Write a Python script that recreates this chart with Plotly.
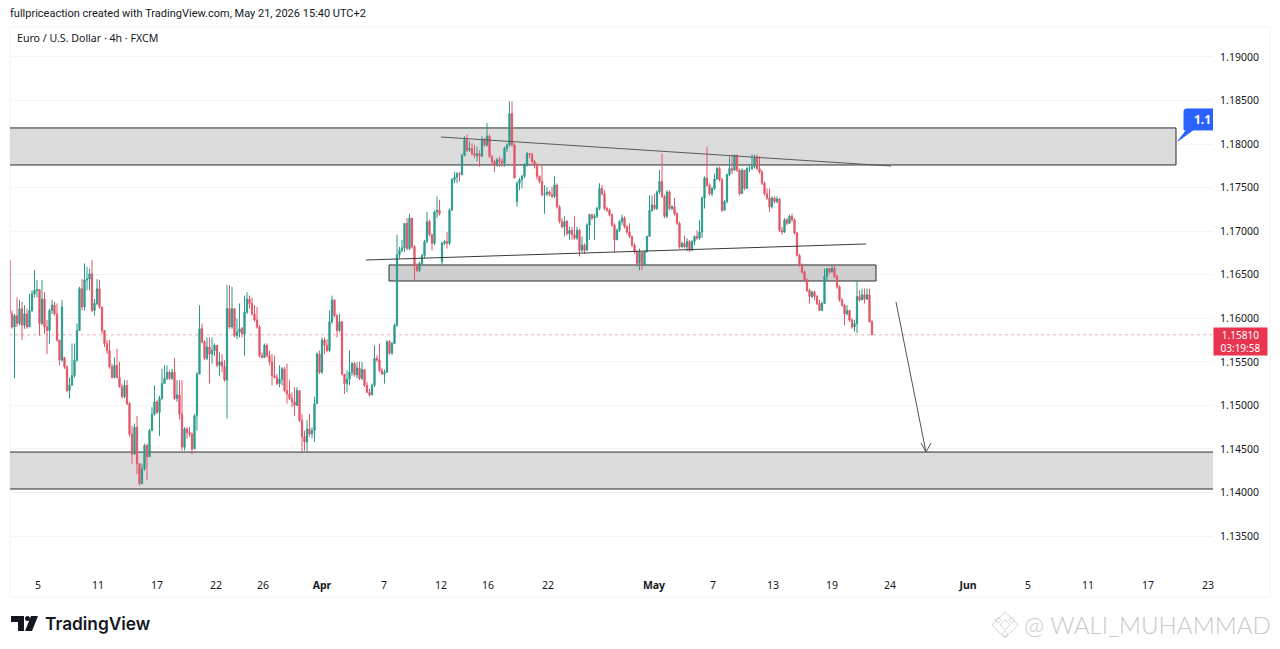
import plotly.graph_objects as go

# EUR/USD 4h candles
first_open = 1.1667
open_gaps = {22: 1.1555, 173: 1.1665, 203: 1.1734}

closes = [
    1.1605, 1.1590, 1.1603, 1.1594, 1.1611, 1.1592, 1.1605, 1.1590, 1.1609, 1.1628,
    1.1632, 1.1633, 1.1594, 1.1622, 1.1590, 1.1586, 1.1609, 1.1615, 1.1605, 1.1575,
    1.1552, 1.1613, 1.1544, 1.1517, 1.1523, 1.1534, 1.1552, 1.1586, 1.1634, 1.1613,
    1.1644, 1.1645, 1.1651, 1.1609, 1.1617, 1.1634, 1.1613, 1.1586, 1.1571, 1.1563,
    1.1544, 1.1532, 1.1546, 1.1532, 1.1521, 1.1510, 1.1523, 1.1502, 1.1467, 1.1444,
    1.1475, 1.1433, 1.1410, 1.1427, 1.1454, 1.1441, 1.1471, 1.1490, 1.1504, 1.1492,
    1.1508, 1.1525, 1.1531, 1.1538, 1.1531, 1.1538, 1.1508, 1.1512, 1.1490, 1.1452, 1.1473, 1.1469,
    1.1467, 1.1450, 1.1488, 1.1536, 1.1588, 1.1573, 1.1554, 1.1567, 1.1559, 1.1563,
    1.1569, 1.1546, 1.1550, 1.1545, 1.1529, 1.1611, 1.1590, 1.1611, 1.1580, 1.1584,
    1.1588, 1.1582, 1.1607, 1.1622, 1.1617, 1.1605, 1.1598, 1.1590, 1.1557, 1.1555,
    1.1569, 1.1557, 1.1550, 1.1534, 1.1532, 1.1525, 1.1530, 1.1542, 1.1517, 1.1513,
    1.1508, 1.1504, 1.1500, 1.1517, 1.1483, 1.1464, 1.1458, 1.1473, 1.1467, 1.1471,
    1.1502, 1.1559, 1.1538, 1.1575, 1.1569, 1.1563, 1.1596, 1.1621, 1.1603, 1.1586,
    1.1596, 1.1536, 1.1525, 1.1530, 1.1538, 1.1548, 1.1535, 1.1543, 1.1531, 1.1541,
    1.1523, 1.1515, 1.1512, 1.1523, 1.1554, 1.1552, 1.1540, 1.1536, 1.1538, 1.1573,
    1.1560, 1.1571, 1.1592, 1.1673, 1.1678, 1.1681, 1.1709, 1.1680, 1.1715, 1.1682,
    1.1661, 1.1655, 1.1663, 1.1672, 1.1688, 1.1711, 1.1696, 1.1686, 1.1722,
    1.1724, 1.1720, 1.1686, 1.1688, 1.1686, 1.1724, 1.1759, 1.1762, 1.1766, 1.1765,
    1.1787, 1.1805, 1.1793, 1.1795, 1.1789, 1.1787, 1.1789, 1.1786, 1.1805, 1.1799,
    1.1809, 1.1786, 1.1780, 1.1776, 1.1782, 1.1780, 1.1778, 1.1795, 1.1799, 1.1835,
    1.1799, 1.1761, 1.1755, 1.1759, 1.1763, 1.1776, 1.1789, 1.1788, 1.1780, 1.1776,
    1.1763, 1.1757, 1.1742, 1.1743, 1.1745, 1.1742, 1.1740, 1.1753, 1.1728, 1.1711, 1.1705,
    1.1711, 1.1697, 1.1701, 1.1696, 1.1692, 1.1701, 1.1678, 1.1684, 1.1678, 1.1707, 1.1719,
    1.1715, 1.1717, 1.1726, 1.1749, 1.1743, 1.1726, 1.1724, 1.1719, 1.1707, 1.1690,
    1.1701, 1.1711, 1.1715, 1.1705, 1.1699, 1.1694, 1.1684, 1.1676, 1.1663, 1.1676,
    1.1661, 1.1676, 1.1694, 1.1724, 1.1730, 1.1726, 1.1745, 1.1757, 1.1740, 1.1717,
    1.1745, 1.1726, 1.1728, 1.1720, 1.1709, 1.1682, 1.1686, 1.1682, 1.1688, 1.1678,
    1.1688, 1.1694, 1.1692, 1.1699, 1.1738, 1.1761, 1.1753, 1.1743, 1.1749,
    1.1760, 1.1772, 1.1759, 1.1724, 1.1734, 1.1765, 1.1772, 1.1770,
    1.1787, 1.1770, 1.1743, 1.1770, 1.1749, 1.1772, 1.1772, 1.1774, 1.1784, 1.1772,
    1.1768, 1.1755, 1.1743, 1.1738, 1.1728, 1.1738, 1.1734, 1.1737, 1.1701, 1.1699,
    1.1713, 1.1709, 1.1717, 1.1713, 1.1698, 1.1672, 1.1661, 1.1653, 1.1644, 1.1632,
    1.1625, 1.1630, 1.1625, 1.1617, 1.1609, 1.1617, 1.1648, 1.1657, 1.1653, 1.1657,
    1.1648, 1.1636, 1.1621, 1.1615, 1.1605, 1.1609, 1.1598, 1.1590, 1.1594, 1.1625,
    1.1621, 1.1627, 1.1622, 1.1627, 1.1596, 1.1581,
]
highs = [
    1.1697, 1.1609, 1.1605, 1.1624, 1.1621, 1.1619, 1.1615, 1.1611, 1.1628, 1.1632,
    1.1655, 1.1644, 1.1630, 1.1644, 1.1630, 1.1598, 1.1611, 1.1621, 1.1619, 1.1617,
    1.1575, 1.1621, 1.1555, 1.1546, 1.1532, 1.1571, 1.1571, 1.1594, 1.1636, 1.1645,
    1.1663, 1.1659, 1.1657, 1.1667, 1.1622, 1.1645, 1.1644, 1.1613, 1.1586, 1.1575,
    1.1575, 1.1548, 1.1555, 1.1565, 1.1550, 1.1525, 1.1529, 1.1529, 1.1504, 1.1477,
    1.1479, 1.1488, 1.1433, 1.1433, 1.1456, 1.1456, 1.1473, 1.1498, 1.1523, 1.1506,
    1.1511, 1.1542, 1.1546, 1.1546, 1.1540, 1.1542, 1.1554, 1.1529, 1.1529, 1.1529, 1.1475, 1.1475,
    1.1475, 1.1469, 1.1490, 1.1538, 1.1615, 1.1594, 1.1575, 1.1578, 1.1578, 1.1578,
    1.1571, 1.1559, 1.1561, 1.1559, 1.1552, 1.1638, 1.1638, 1.1636, 1.1611, 1.1600,
    1.1617, 1.1590, 1.1626, 1.1630, 1.1626, 1.1624, 1.1615, 1.1613, 1.1592, 1.1561,
    1.1571, 1.1571, 1.1563, 1.1559, 1.1557, 1.1536, 1.1546, 1.1544, 1.1544, 1.1548,
    1.1529, 1.1515, 1.1521, 1.1521, 1.1517, 1.1490, 1.1471, 1.1483, 1.1490, 1.1475,
    1.1510, 1.1561, 1.1563, 1.1578, 1.1578, 1.1576, 1.1609, 1.1626, 1.1622, 1.1605,
    1.1605, 1.1597, 1.1536, 1.1540, 1.1563, 1.1550, 1.1550, 1.1550, 1.1550, 1.1550,
    1.1541, 1.1527, 1.1519, 1.1525, 1.1569, 1.1558, 1.1571, 1.1543, 1.1541, 1.1575,
    1.1575, 1.1573, 1.1594, 1.1696, 1.1682, 1.1690, 1.1709, 1.1715, 1.1720, 1.1715,
    1.1684, 1.1663, 1.1665, 1.1674, 1.1690, 1.1722, 1.1713, 1.1692, 1.1724,
    1.1740, 1.1736, 1.1688, 1.1690, 1.1699, 1.1726, 1.1761, 1.1768, 1.1768, 1.1768,
    1.1789, 1.1809, 1.1811, 1.1803, 1.1801, 1.1799, 1.1797, 1.1793, 1.1809, 1.1807,
    1.1824, 1.1811, 1.1787, 1.1782, 1.1784, 1.1786, 1.1784, 1.1797, 1.1801, 1.1849,
    1.1849, 1.1801, 1.1757, 1.1761, 1.1765, 1.1778, 1.1791, 1.1790, 1.1790, 1.1782,
    1.1778, 1.1764, 1.1776, 1.1753, 1.1751, 1.1747, 1.1751, 1.1763, 1.1755, 1.1730, 1.1715,
    1.1717, 1.1713, 1.1705, 1.1705, 1.1717, 1.1705, 1.1703, 1.1694, 1.1686, 1.1709, 1.1720,
    1.1720, 1.1720, 1.1728, 1.1755, 1.1753, 1.1747, 1.1728, 1.1726, 1.1720, 1.1709,
    1.1703, 1.1713, 1.1719, 1.1717, 1.1707, 1.1709, 1.1695, 1.1686, 1.1678, 1.1680,
    1.1676, 1.1678, 1.1695, 1.1741, 1.1741, 1.1743, 1.1747, 1.1770, 1.1789, 1.1742,
    1.1747, 1.1747, 1.1730, 1.1738, 1.1722, 1.1711, 1.1688, 1.1695, 1.1692, 1.1690,
    1.1690, 1.1695, 1.1701, 1.1713, 1.1740, 1.1763, 1.1797, 1.1755, 1.1751,
    1.1766, 1.1774, 1.1774, 1.1761, 1.1736, 1.1766, 1.1786, 1.1788,
    1.1788, 1.1788, 1.1772, 1.1772, 1.1770, 1.1774, 1.1776, 1.1788, 1.1788, 1.1788,
    1.1786, 1.1770, 1.1757, 1.1749, 1.1749, 1.1740, 1.1740, 1.1740, 1.1738, 1.1705,
    1.1715, 1.1715, 1.1719, 1.1720, 1.1715, 1.1699, 1.1674, 1.1663, 1.1655, 1.1646,
    1.1634, 1.1632, 1.1632, 1.1627, 1.1621, 1.1619, 1.1657, 1.1657, 1.1657, 1.1660,
    1.1660, 1.1650, 1.1638, 1.1623, 1.1617, 1.1615, 1.1609, 1.1600, 1.1598, 1.1644,
    1.1632, 1.1634, 1.1634, 1.1634, 1.1634, 1.1598,
]
lows = [
    1.1603, 1.1588, 1.1531, 1.1590, 1.1592, 1.1575, 1.1588, 1.1588, 1.1590, 1.1607,
    1.1624, 1.1624, 1.1580, 1.1592, 1.1582, 1.1559, 1.1571, 1.1605, 1.1603, 1.1573,
    1.1546, 1.1550, 1.1542, 1.1515, 1.1508, 1.1525, 1.1532, 1.1550, 1.1586, 1.1609,
    1.1609, 1.1632, 1.1632, 1.1607, 1.1603, 1.1615, 1.1611, 1.1582, 1.1567, 1.1559,
    1.1542, 1.1531, 1.1531, 1.1531, 1.1521, 1.1508, 1.1508, 1.1500, 1.1464, 1.1433,
    1.1444, 1.1421, 1.1408, 1.1410, 1.1425, 1.1414, 1.1441, 1.1471, 1.1488, 1.1490,
    1.1465, 1.1506, 1.1527, 1.1529, 1.1529, 1.1529, 1.1506, 1.1504, 1.1484, 1.1448, 1.1448, 1.1462,
    1.1464, 1.1444, 1.1450, 1.1471, 1.1536, 1.1571, 1.1552, 1.1552, 1.1525, 1.1548,
    1.1557, 1.1544, 1.1534, 1.1538, 1.1527, 1.1485, 1.1588, 1.1588, 1.1578, 1.1576,
    1.1578, 1.1578, 1.1557, 1.1605, 1.1611, 1.1603, 1.1596, 1.1588, 1.1555, 1.1554,
    1.1555, 1.1555, 1.1546, 1.1523, 1.1531, 1.1523, 1.1521, 1.1523, 1.1515, 1.1502,
    1.1506, 1.1498, 1.1488, 1.1502, 1.1481, 1.1446, 1.1448, 1.1446, 1.1464, 1.1462,
    1.1458, 1.1502, 1.1536, 1.1536, 1.1559, 1.1561, 1.1561, 1.1594, 1.1601, 1.1578,
    1.1584, 1.1534, 1.1513, 1.1515, 1.1523, 1.1534, 1.1533, 1.1531, 1.1529, 1.1529,
    1.1521, 1.1514, 1.1510, 1.1512, 1.1521, 1.1550, 1.1538, 1.1535, 1.1525, 1.1538,
    1.1558, 1.1558, 1.1571, 1.1590, 1.1669, 1.1676, 1.1676, 1.1678, 1.1678, 1.1680,
    1.1644, 1.1653, 1.1653, 1.1661, 1.1669, 1.1686, 1.1694, 1.1678, 1.1684,
    1.1715, 1.1718, 1.1661, 1.1684, 1.1680, 1.1684, 1.1724, 1.1755, 1.1755, 1.1757,
    1.1764, 1.1786, 1.1791, 1.1791, 1.1787, 1.1784, 1.1780, 1.1774, 1.1786, 1.1797,
    1.1797, 1.1784, 1.1776, 1.1768, 1.1774, 1.1774, 1.1774, 1.1774, 1.1791, 1.1797,
    1.1797, 1.1761, 1.1728, 1.1747, 1.1749, 1.1761, 1.1774, 1.1784, 1.1778, 1.1772,
    1.1759, 1.1755, 1.1740, 1.1720, 1.1740, 1.1740, 1.1738, 1.1738, 1.1726, 1.1709, 1.1703,
    1.1694, 1.1695, 1.1690, 1.1690, 1.1690, 1.1690, 1.1671, 1.1676, 1.1674, 1.1678, 1.1690,
    1.1713, 1.1690, 1.1715, 1.1724, 1.1741, 1.1724, 1.1722, 1.1717, 1.1705, 1.1676,
    1.1690, 1.1699, 1.1707, 1.1703, 1.1697, 1.1692, 1.1682, 1.1674, 1.1659, 1.1655,
    1.1655, 1.1661, 1.1676, 1.1694, 1.1722, 1.1724, 1.1724, 1.1743, 1.1738, 1.1715,
    1.1715, 1.1724, 1.1724, 1.1718, 1.1707, 1.1680, 1.1681, 1.1680, 1.1677, 1.1676,
    1.1678, 1.1684, 1.1690, 1.1690, 1.1692, 1.1726, 1.1751, 1.1741, 1.1740,
    1.1747, 1.1759, 1.1757, 1.1722, 1.1724, 1.1732, 1.1763, 1.1766,
    1.1770, 1.1768, 1.1741, 1.1743, 1.1747, 1.1749, 1.1768, 1.1770, 1.1772, 1.1770,
    1.1766, 1.1753, 1.1741, 1.1736, 1.1722, 1.1726, 1.1732, 1.1732, 1.1699, 1.1696,
    1.1698, 1.1707, 1.1709, 1.1711, 1.1696, 1.1671, 1.1659, 1.1651, 1.1642, 1.1630,
    1.1617, 1.1623, 1.1621, 1.1615, 1.1609, 1.1609, 1.1617, 1.1644, 1.1651, 1.1653,
    1.1646, 1.1634, 1.1619, 1.1613, 1.1592, 1.1603, 1.1596, 1.1588, 1.1585, 1.1583,
    1.1619, 1.1621, 1.1617, 1.1621, 1.1595, 1.1581,
]

price_ticks = [1.135, 1.14, 1.145, 1.15, 1.155, 1.16, 1.165, 1.17, 1.175, 1.18, 1.185, 1.19]
tick_bars = [11.4, 35.4, 59, 82.6, 101.4, 125, 149.8, 172.6, 191.4, 215.4,
             257.8, 281.4, 305.4, 329, 352.2, 383.4, 407.4, 431.4, 455.4, 479.4]
tick_labels = ["5", "11", "17", "22", "26", "<b>Apr</b>", "7", "12", "16", "22",
               "<b>May</b>", "7", "13", "19", "24", "<b>Jun</b>", "5", "11", "17", "23"]

last_price = 1.1581

# drawings on the chart, in bars and prices
zone_top = [-5, 466.6, 1.1776, 1.18185]
zone_bottom = [-5, 490, 1.1404, 1.14464]
zone_mid = [151.8, 346.6, 1.16428, 1.16612]
trend_down = [172.6, 1.18081, 352.6, 1.17748]
trend_flat = [142.6, 1.16669, 342.6, 1.16853]
arrow_line = [354.6, 1.16187, 366.6, 1.14464]

assert len(closes) == len(highs) == len(lows)
bars = list(range(len(closes)))
opens = [first_open] + closes[:-1]
for k, v in open_gaps.items():
    opens[k] = v

# the page body has an 8px margin, everything below is in screenshot pixels
BODY = 8
LEFT, RIGHT, TOP, BOTTOM = 10, 1213, 27, 570
FIG_W, FIG_H = 1264, 633


def px(x):
    return (x - LEFT) / (RIGHT - LEFT)


def py(y):
    return (BOTTOM - y) / (BOTTOM - TOP)


fig = go.Figure()
fig.add_trace(go.Candlestick(
    x=bars, open=opens, high=highs, low=lows, close=closes,
    increasing=dict(line=dict(color="#2b9a8c", width=1), fillcolor="#2b9a8c"),
    decreasing=dict(line=dict(color="#e25768", width=1), fillcolor="#e25768"),
    whiskerwidth=0, hoverinfo="skip", showlegend=False,
))

line_dark = dict(color="#2b2b2b", width=1)
shapes = []
# zones
shapes.append(dict(type="rect", x0=zone_top[0], x1=zone_top[1], y0=zone_top[2], y1=zone_top[3],
                   fillcolor="#dcdcdc", line=line_dark, layer="between"))
shapes.append(dict(type="rect", x0=zone_bottom[0], x1=zone_bottom[1], y0=zone_bottom[2], y1=zone_bottom[3],
                   fillcolor="#dcdcdc", line=line_dark, layer="between"))
shapes.append(dict(type="rect", x0=zone_mid[0], x1=zone_mid[1], y0=zone_mid[2], y1=zone_mid[3],
                   fillcolor="#cfcfcf", line=line_dark, layer="between"))
# trend lines
shapes.append(dict(type="line", x0=trend_down[0], y0=trend_down[1], x1=trend_down[2], y1=trend_down[3],
                   line=dict(color="#5a5a5a", width=1)))
shapes.append(dict(type="line", x0=trend_flat[0], y0=trend_flat[1], x1=trend_flat[2], y1=trend_flat[3],
                   line=dict(color="#3a3a3a", width=1)))
# arrow
shapes.append(dict(type="line", x0=arrow_line[0], y0=arrow_line[1], x1=arrow_line[2], y1=arrow_line[3],
                   line=dict(color="#555555", width=1)))
shapes.append(dict(type="path", path="M 364.6 1.14568 L 366.6 1.14464 L 368.6 1.14568",
                   line=dict(color="#555555", width=1)))
# last price line
shapes.append(dict(type="line", x0=-5, x1=490, y0=last_price, y1=last_price,
                   line=dict(color="rgba(226,87,104,0.5)", width=1, dash="dot"), layer="between"))
# blue callout
shapes.append(dict(type="path",
                   path="M 469.8 1.18162 L 470.8 1.18162 L 467.4 1.18035 L 473.4 1.18162 L 482 1.18162 "
                        "L 482 1.18403 L 471 1.18403 Q 469.8 1.18403 469.8 1.18380 Z",
                   fillcolor="#2962ff", line=dict(color="#2962ff", width=1)))
# page frame
shapes.append(dict(type="rect", xref="paper", yref="paper", x0=px(10), x1=px(1270), y0=py(597), y1=py(27),
                   line=dict(color="#f2f3f5", width=1), layer="below"))
# TradingView logo
shapes.append(dict(type="path", xref="paper", yref="paper", fillcolor="#131722", line=dict(width=0),
                   path=f"M {px(11)} {py(616)} L {px(24)} {py(616)} L {px(24)} {py(631)} L {px(18)} {py(631)} "
                        f"L {px(18)} {py(622)} L {px(11)} {py(622)} Z"))
shapes.append(dict(type="circle", xref="paper", yref="paper", fillcolor="#131722", line=dict(width=0),
                   x0=px(25), x1=px(30), y0=py(621), y1=py(616)))
shapes.append(dict(type="path", xref="paper", yref="paper", fillcolor="#131722", line=dict(width=0),
                   path=f"M {px(31)} {py(616)} L {px(38)} {py(616)} L {px(32)} {py(631)} L {px(25)} {py(631)} Z"))
# watermark icon
for cx, cy, r in [(1005, 625, 13), (1005, 625, 5), (998, 620, 3), (1012, 620, 3), (1005, 634, 3)]:
    shapes.append(dict(type="path", xref="paper", yref="paper", line=dict(color="#d6d6d6", width=1),
                       path=f"M {px(cx - r)} {py(cy)} L {px(cx)} {py(cy - r)} L {px(cx + r)} {py(cy)} "
                            f"L {px(cx)} {py(cy + r)} Z"))


def label(text, x, y, size, color="#131722", anchor="left", font="Noto Sans", weight="normal", **kw):
    return dict(text=text, xref="paper", yref="paper", x=px(x), y=py(y), xanchor=anchor, yanchor="middle",
                showarrow=False, font=dict(family=font, size=size, color=color, weight=weight), **kw)


annotations = [
    label("fullpriceaction created with TradingView.com, May 21, 2026 15:40 UTC+2", 8, 14, 11, font="Roboto"),
    label("Euro / U.S. Dollar · 4h · FXCM", 15, 38, 10.6),
    label("TradingView", 43, 623, 17.3, font="Inter", weight=600),
    label("@ WALI_MUHAMMAD", 1022, 624, 24.2, color="#c9c9c9", font="Lato", weight=300),
    label("1.1", 1192, 119, 12, color="#ffffff", weight=700),
    dict(text="1.15810<br>03:19:58", xref="paper", yref="paper", x=px(1240.5), y=py(341.5),
         xanchor="center", yanchor="middle", showarrow=False, width=53, height=27, align="center",
         bgcolor="#e8344e", borderpad=0, font=dict(family="Noto Sans", size=10, color="#ffffff")),
]

fig.update_layout(
    width=FIG_W, height=FIG_H,
    margin=dict(l=LEFT - BODY, r=FIG_W - (RIGHT - BODY), t=TOP - BODY, b=FIG_H - (BOTTOM - BODY)),
    paper_bgcolor="#ffffff", plot_bgcolor="#ffffff",
    showlegend=False,
    shapes=shapes, annotations=annotations,
    font=dict(family="Noto Sans", size=10.5, color="#131722"),
    xaxis=dict(range=[0.2, 481.4], rangeslider=dict(visible=False), showgrid=False, zeroline=False,
               tickmode="array", tickvals=tick_bars, ticktext=tick_labels, ticks="outside",
               ticklen=5, tickcolor="rgba(0,0,0,0)", showline=False),
    yaxis=dict(range=[1.13110, 1.19344], side="right", tickmode="array", tickvals=price_ticks,
               tickformat=".5f", gridcolor="#f4f4f5", gridwidth=1, zeroline=False, showline=False,
               ticks="outside", ticklen=4, tickcolor="rgba(0,0,0,0)"),
)

fig.write_html("out.html")
